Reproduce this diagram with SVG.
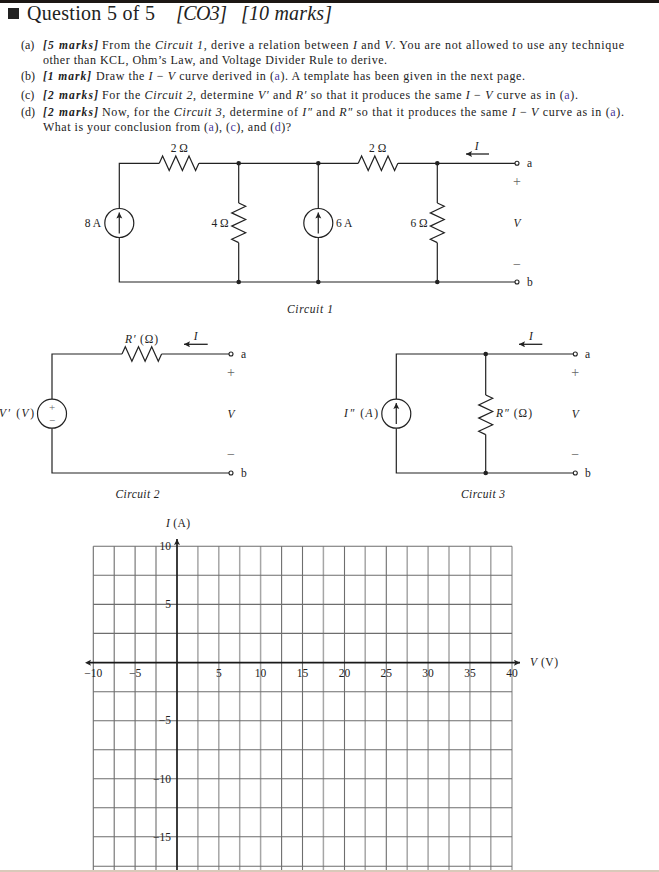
<svg xmlns="http://www.w3.org/2000/svg" width="659" height="872" viewBox="0 0 659 872">
<style>
text{font-family:"Liberation Serif","Times New Roman",serif;fill:#222;font-size:11.5px}
.t{font-size:20px}
.ti{font-size:20px;font-style:italic}
.b{font-size:11.5px;font-style:italic;font-weight:bold}
.c{font-size:12px}
.m{text-anchor:middle}
.e{text-anchor:end}
.i{font-style:italic}
.l{fill:#4a3a9c}
.s{fill:#666;font-size:14px;text-anchor:middle}
.p{fill:#666;font-size:11px;text-anchor:middle}
.w{fill:none;stroke:#222;stroke-width:1.2}
.src{fill:#fff;stroke:#222;stroke-width:1.2}
.term{fill:#fff;stroke:#222;stroke-width:1.1}
.dot{fill:#222}
.gd{fill:none;stroke:#6e6e6e;stroke-width:1.1}
.gl{fill:none;stroke:#a6a6a6;stroke-width:1.5}
.ax{fill:none;stroke:#1a1a1a;stroke-width:1.7}
.cur{fill:none;stroke:#333;stroke-width:1.3;marker-end:url(#ah)}
.ar{fill:none;stroke:#222;stroke-width:1.3;marker-end:url(#ah)}
</style>
<defs>
<marker id="ah" markerUnits="userSpaceOnUse" markerWidth="8" markerHeight="8" refX="6" refY="3" orient="auto"><path d="M0 0L6 3L0 6L1.2 3Z" fill="#222"/></marker>
<path id="rh" d="M0 0l3.3-7.3l6.6 14.6l6.6-14.6l6.6 14.6l6.6-14.6l6.6 14.6l3.3-7.3" fill="none" stroke="#222" stroke-width="1.2"/>
<path id="rv" d="M0 0l7 3.3l-14 6.6l14 6.6l-14 6.6l14 6.6l-14 6.6l7 3.3" fill="none" stroke="#222" stroke-width="1.2"/>
</defs>
<rect x="0" y="0" width="659" height="3" fill="#1c1714"/>
<rect x="0" y="870" width="659" height="2" fill="#d9c9ba"/>
<g id="question-text">
<rect x="8" y="8" width="11" height="11" fill="#222"/>
<text class="t" x="27" y="20" textLength="128">Question 5 of 5</text>
<text class="ti" x="176" y="20" textLength="51">[CO3]</text>
<text class="ti" x="241" y="20" textLength="91">[10 marks]</text>
<text class="c" x="21" y="49">(a)</text>
<text class="b" x="43" y="49" textLength="55">[5 marks]</text>
<text class="c" x="102" y="49" textLength="522">From the <tspan class="i">Circuit 1</tspan>, derive a relation between <tspan class="i">I</tspan> and <tspan class="i">V</tspan>. You are not allowed to use any technique</text>
<text class="c" x="43" y="64" textLength="344">other than KCL, Ohm’s Law, and Voltage Divider Rule to derive.</text>
<text class="c" x="21" y="80">(b)</text>
<text class="b" x="43" y="80" textLength="48">[1 mark]</text>
<text class="c" x="96" y="80" textLength="429">Draw the <tspan class="i">I</tspan> − <tspan class="i">V</tspan> curve derived in (<tspan class="l">a</tspan>). A template has been given in the next page.</text>
<text class="c" x="21" y="99">(c)</text>
<text class="b" x="43" y="99" textLength="55">[2 marks]</text>
<text class="c" x="102" y="99" textLength="476">For the <tspan class="i">Circuit 2</tspan>, determine <tspan class="i">V′</tspan> and <tspan class="i">R′</tspan> so that it produces the same <tspan class="i">I</tspan> − <tspan class="i">V</tspan> curve as in (<tspan class="l">a</tspan>).</text>
<text class="c" x="21" y="116">(d)</text>
<text class="b" x="43" y="116" textLength="55">[2 marks]</text>
<text class="c" x="102" y="116" textLength="522">Now, for the <tspan class="i">Circuit 3</tspan>, determine of <tspan class="i">I″</tspan> and <tspan class="i">R″</tspan> so that it produces the same <tspan class="i">I</tspan> − <tspan class="i">V</tspan> curve as in (<tspan class="l">a</tspan>).</text>
<text class="c" x="43" y="131" textLength="248">What is your conclusion from (<tspan class="l">a</tspan>), (<tspan class="l">c</tspan>), and (<tspan class="l">d</tspan>)?</text>
</g>
<g id="connectors">
<path class="w" d="M119.3 208.5V163.3H159.3M198.9 163.3H358.3M397.9 163.3H515M238.7 163.3V203M238.7 242.7V282M318.3 163.3V208.5M318.3 237.5V282M437.3 163.3V203M437.3 242.7V282M119.3 237.5V282H515"/>
<path class="w" d="M52 399.2V354H122M161.6 354H229M52 428.2V473H229"/>
<path class="w" d="M396.3 399.2V354H573.3M485.7 354V395M485.7 434.6V473M396.3 428.2V473H573.3"/>
</g>
<g id="circuit-1">
<g id="c1-r1"><use href="#rh" x="159.3" y="163.3"/><text class="m" x="179.3" y="152">2 Ω</text></g>
<g id="c1-r2"><use href="#rh" x="358.3" y="163.3"/><text class="m" x="377.7" y="152">2 Ω</text></g>
<g id="c1-r3"><use href="#rv" x="238.7" y="203"/><text class="m" x="220" y="226.5">4 Ω</text></g>
<g id="c1-r4"><use href="#rv" x="437.3" y="203"/><text class="m" x="419" y="226.5">6 Ω</text></g>
<g id="c1-s1"><circle class="src" cx="119.3" cy="223" r="14.5"/><path class="cur" d="M119.3 233.5V212.5"/><text class="m" x="93" y="226.5">8 A</text></g>
<g id="c1-s2"><circle class="src" cx="318.3" cy="223" r="14.5"/><path class="cur" d="M318.3 233.5V212.5"/><text x="336" y="226.5">6 A</text></g>
<g id="c1-nodes"><circle class="dot" cx="238.7" cy="163.3" r="2.3"/><circle class="dot" cx="318.3" cy="163.3" r="2.3"/><circle class="dot" cx="437.3" cy="163.3" r="2.3"/><circle class="dot" cx="238.7" cy="282" r="2.3"/><circle class="dot" cx="318.3" cy="282" r="2.3"/><circle class="dot" cx="437.3" cy="282" r="2.3"/></g>
<g id="c1-a"><circle class="term" cx="517" cy="163.3" r="2"/><text x="527" y="167">a</text></g>
<g id="c1-b"><circle class="term" cx="517" cy="282" r="2"/><text x="527" y="286">b</text></g>
<g id="c1-port"><text class="s" x="517" y="185.5">+</text><text class="m i" x="517" y="227">V</text><text class="s" x="517" y="269">−</text></g>
<g id="c1-i"><path class="ar" d="M489 154H466"/><text class="m i" x="476.7" y="150">I</text></g>
<text class="i" x="287" y="313" textLength="46">Circuit 1</text>
</g>
<g id="circuit-2">
<g id="c2-r"><use href="#rh" x="122" y="354"/><text x="125" y="343" textLength="33"><tspan class="i">R′</tspan> (Ω)</text></g>
<g id="c2-s"><circle class="src" cx="52" cy="413.7" r="14.5"/><text class="p" x="52" y="410.5">+</text><text class="p" x="52" y="424">−</text><text x="-1" y="417" textLength="35"><tspan class="i">V′</tspan> (<tspan class="i">V</tspan>)</text></g>
<g id="c2-a"><circle class="term" cx="231" cy="354" r="2"/><text x="241" y="358">a</text></g>
<g id="c2-b"><circle class="term" cx="231" cy="473" r="2"/><text x="241" y="477">b</text></g>
<g id="c2-port"><text class="s" x="231" y="376.5">+</text><text class="m i" x="231" y="418">V</text><text class="s" x="231" y="459">−</text></g>
<g id="c2-i"><path class="ar" d="M207.7 344.3H184"/><text class="m i" x="195.7" y="340">I</text></g>
<text class="i" x="115.5" y="498" textLength="44">Circuit 2</text>
</g>
<g id="circuit-3">
<g id="c3-s"><circle class="src" cx="396.3" cy="413.7" r="14.5"/><path class="cur" d="M396.3 424V403"/><text x="344" y="417" textLength="34"><tspan class="i">I″</tspan> (<tspan class="i">A</tspan>)</text></g>
<g id="c3-r"><use href="#rv" x="485.7" y="395"/><text x="496" y="417" textLength="36"><tspan class="i">R″</tspan> (Ω)</text></g>
<g id="c3-nodes"><circle class="dot" cx="485.7" cy="354" r="2.3"/><circle class="dot" cx="485.7" cy="473" r="2.3"/></g>
<g id="c3-a"><circle class="term" cx="575.3" cy="354" r="2"/><text x="585" y="358">a</text></g>
<g id="c3-b"><circle class="term" cx="575.3" cy="473" r="2"/><text x="585" y="477">b</text></g>
<g id="c3-port"><text class="s" x="575.3" y="376.5">+</text><text class="m i" x="575.3" y="418">V</text><text class="s" x="575.3" y="459">−</text></g>
<g id="c3-i"><path class="ar" d="M542.3 344.3H519"/><text class="m i" x="531" y="340">I</text></g>
<text class="i" x="461" y="498" textLength="44">Circuit 3</text>
</g>
<g id="iv-grid">
<path class="gd" d="M93.3 546.3V870M114.2 546.3V870M135.1 546.3V870M156 546.3V870M281.6 546.3V870M302.5 546.3V870M344.5 546.3V870M386.3 546.3V870"/>
<path class="gl" d="M197.9 546.3V870M218.8 546.3V870M239.7 546.3V870M260.6 546.3V870M323.4 546.3V870M365.2 546.3V870M407.2 546.3V870M428.1 546.3V870M449 546.3V870M469.9 546.3V870M490.8 546.3V870M512 546.3V870"/>
<path class="gd" d="M93.3 546.3H512M93.3 575.3H512M93.3 604.4H512M93.3 633.4H512M93.3 691.7H512M93.3 720.7H512M93.3 749.7H512M93.3 778.8H512M93.3 807.8H512M93.3 836.8H512M93.3 866.3H512"/>
</g>
<g id="iv-axes">
<path class="ax" d="M177 870V539" marker-end="url(#ah)"/>
<path class="ax" d="M88 662.7H520" marker-end="url(#ah)"/>
<path d="M85 662.7L91 659.7L89.8 662.7L91 665.7Z" fill="#222"/>
<text x="166" y="527" textLength="24"><tspan class="i">I</tspan> (A)</text>
<text x="530" y="666" textLength="28"><tspan class="i">V</tspan> (V)</text>
<text class="m" x="93.3" y="677">−10</text><text class="m" x="135.1" y="677">−5</text><text class="m" x="218.8" y="677">5</text><text class="m" x="260.6" y="677">10</text><text class="m" x="302.5" y="677">15</text><text class="m" x="344.5" y="677">20</text><text class="m" x="386.3" y="677">25</text><text class="m" x="428.1" y="677">30</text><text class="m" x="469.9" y="677">35</text><text class="m" x="512" y="677">40</text>
<text class="e" x="171" y="550">10</text><text class="e" x="171" y="608">5</text><text class="e" x="171" y="724">−5</text><text class="e" x="171" y="782.5">−10</text><text class="e" x="171" y="840.5">−15</text>
</g>
</svg>
